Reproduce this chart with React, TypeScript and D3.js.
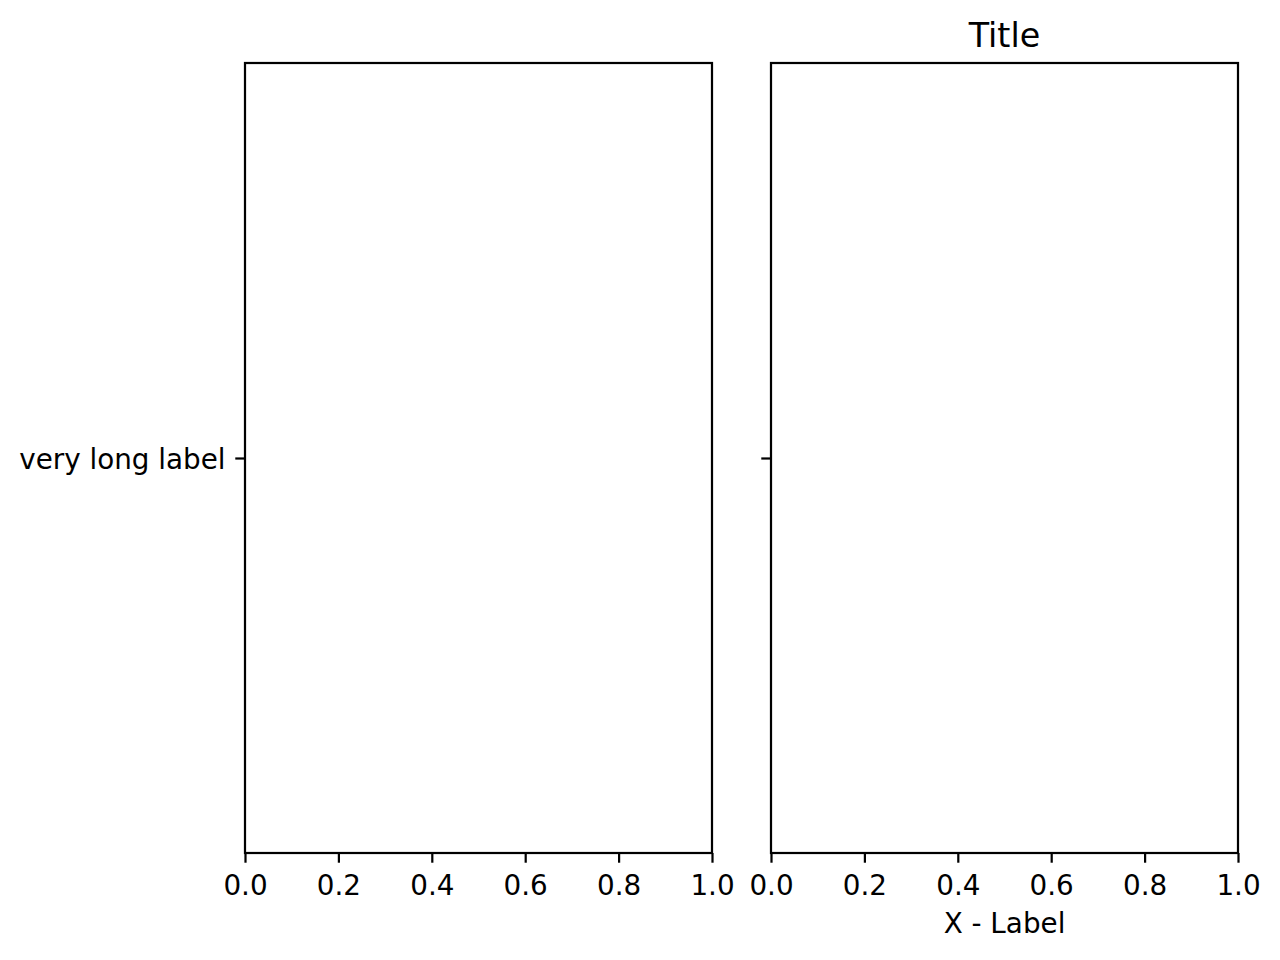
import React, { useEffect, useRef } from "react";
import * as d3 from "d3";

const categories: string[] = ["very long label"];
const xTicks: number[] = [0, 0.2, 0.4, 0.6, 0.8, 1.0];
const xDomain: number[] = [0, 1];
const titleText = "Title";
const xLabelText = "X - Label";

const W = 1280;
const H = 960;
const TOP = 63;
const BOTTOM = 853;
const PANELS = [
  { x0: 245, x1: 712, showYLabels: true, title: "", xlabel: "" },
  { x0: 771, x1: 1238, showYLabels: false, title: titleText, xlabel: xLabelText },
];
const LW = 2.22;
const TICK = 9.72;
const PAD = 9.72;
const FS = 27.8;
const FONT = "DejaVu Sans, sans-serif";

export default function App() {
  const ref = useRef<SVGSVGElement | null>(null);

  useEffect(() => {
    const svg = d3.select(ref.current);
    svg.selectAll("*").remove();
    svg.append("rect").attr("width", W).attr("height", H).attr("fill", "#fff");

    const y = d3.scalePoint<string>().domain(categories).range([BOTTOM, TOP]).padding(0.5);

    PANELS.forEach((p) => {
      const x = d3.scaleLinear().domain(xDomain).range([p.x0, p.x1]);
      const g = svg.append("g");

      // x axis
      const xa = g
        .append("g")
        .attr("transform", `translate(0,${BOTTOM})`)
        .call(
          d3
            .axisBottom(x)
            .tickValues(xTicks)
            .tickSize(TICK)
            .tickSizeOuter(0)
            .tickFormat(d3.format(".1f"))
        );
      xa.select(".domain").remove();
      xa.selectAll(".tick line").attr("stroke", "#000").attr("stroke-width", LW);
      xa.selectAll(".tick text")
        .attr("y", 42)
        .attr("dy", null)
        .attr("fill", "#000")
        .style("font-family", FONT)
        .style("font-size", `${FS}px`);

      // y axis
      const ya = g
        .append("g")
        .attr("transform", `translate(${p.x0},0)`)
        .call(
          d3
            .axisLeft(y)
            .tickSize(TICK)
            .tickSizeOuter(0)
            .tickPadding(PAD)
            .tickFormat((d) => (p.showYLabels ? String(d) : ""))
        );
      ya.select(".domain").remove();
      ya.selectAll(".tick line").attr("stroke", "#000").attr("stroke-width", LW);
      ya.selectAll(".tick text")
        .attr("dy", 10)
        .attr("fill", "#000")
        .style("font-family", FONT)
        .style("font-size", `${FS}px`);

      // spines
      g.append("rect")
        .attr("x", p.x0)
        .attr("y", TOP)
        .attr("width", p.x1 - p.x0)
        .attr("height", BOTTOM - TOP)
        .attr("fill", "none")
        .attr("stroke", "#000")
        .attr("stroke-width", LW)
        .attr("stroke-linejoin", "miter");

      if (p.title) {
        g.append("text")
          .attr("x", (p.x0 + p.x1) / 2)
          .attr("y", 46.5)
          .attr("text-anchor", "middle")
          .style("font-family", FONT)
          .style("font-size", `${FS * 1.2}px`)
          .attr("fill", "#000")
          .text(p.title);
      }
      if (p.xlabel) {
        g.append("text")
          .attr("x", (p.x0 + p.x1) / 2)
          .attr("y", 933)
          .attr("text-anchor", "middle")
          .style("font-family", FONT)
          .style("font-size", `${FS}px`)
          .attr("fill", "#000")
          .text(p.xlabel);
      }
    });
  }, []);

  return (
    <svg
      ref={ref}
      width={W}
      height={H}
      style={{ position: "absolute", left: 0, top: 0, display: "block" }}
    />
  );
}
